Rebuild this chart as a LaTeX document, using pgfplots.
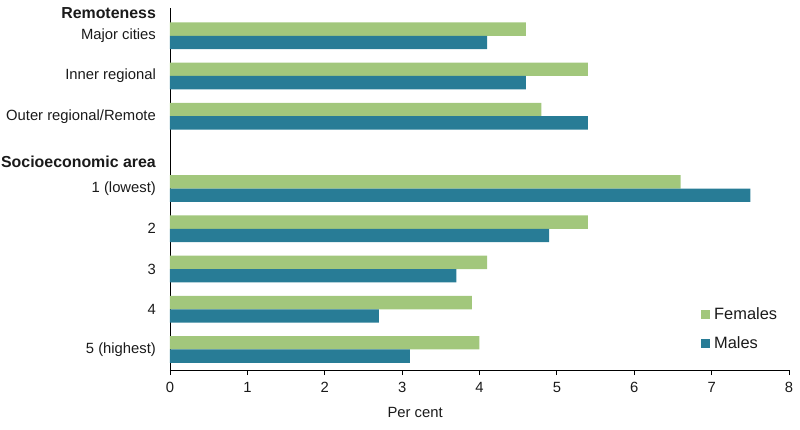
\documentclass[border=0pt]{standalone}
\usepackage{fontspec}
\setmainfont{Liberation Sans}
\usepackage{pgfplots}
\pgfplotsset{compat=1.18}
\definecolor{fem}{HTML}{A2C77C}
\definecolor{mal}{HTML}{287C96}
\definecolor{txt}{HTML}{1A1A1A}
\newcommand{\hd}[1]{{\fontsize{15.9}{18}\selectfont\textbf{#1}}}
\begin{document}
\fontsize{14.8}{17}\selectfont
\begin{tikzpicture}
\useasboundingbox (-170pt,-59pt) rectangle (630pt,370pt);
\begin{axis}[
  at={(0,0)}, anchor=south west,
  scale only axis, width=619pt, height=362pt,
  xbar, y dir=reverse,
  xmin=0, xmax=8, ymin=-0.69, ymax=8.31,
  xtick={0,1,...,8},
  ytick={-0.555,0,1,2,3.14,3.8,4.8,5.8,6.8,7.8},
  yticklabels={\hd{Remoteness},Major cities,Inner regional,Outer regional/Remote,\hd{Socioeconomic area},1 (lowest),2,3,4,5 (highest)},
  axis x line*=bottom, axis y line*=left,
  axis line style={black, line width=0.8pt, -},
  y axis line style={draw=black},
  x tick style={black, line width=0.8pt},
  xtick align=outside, major tick length=5pt,
  ytick style={draw=none},
  tick label style={text=txt, font=\fontsize{14.8}{17}\selectfont},
  /pgf/number format/assume math mode=true,
  yticklabel style={xshift=-4pt},
  xticklabel style={yshift=-2pt},
  xlabel={Per cent},
  xlabel style={at={(rel axis cs:0.396,0)}, anchor=north, yshift=-32pt, text=txt, font=\fontsize{14.8}{17}\selectfont},
  bar width=0.333,
  legend cell align=left,
  legend style={draw=none, fill=none, at={(rel axis cs:0.853,0.185)}, anchor=north west, row sep=11pt, font=\fontsize{16.4}{19}\selectfont, text=txt, nodes={inner xsep=4pt}},
  legend image code/.code={\fill[#1,draw=none] (0pt,-4.5pt) rectangle (9pt,4.5pt);},
]
\addplot[fill=fem, draw=none, bar shift=-0.1665] coordinates {
(4.6,0) (5.4,1) (4.8,2) (6.6,3.8) (5.4,4.8) (4.1,5.8) (3.9,6.8) (4.0,7.8)};
\addlegendentry{Females}
\addplot[fill=mal, draw=none, bar shift=0.1665] coordinates {
(4.1,0) (4.6,1) (5.4,2) (7.5,3.8) (4.9,4.8) (3.7,5.8) (2.7,6.8) (3.1,7.8)};
\addlegendentry{Males}
\end{axis}
\end{tikzpicture}
\end{document}
